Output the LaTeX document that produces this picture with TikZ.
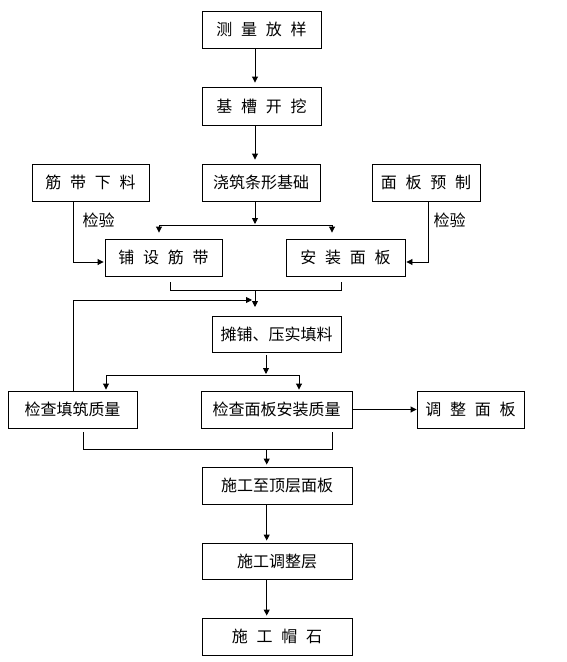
\documentclass[tikz,border=0pt]{standalone}
\usepackage{fontspec}
\newfontfamily\cjk{Noto Sans CJK SC}
\usetikzlibrary{arrows.meta}
\newcommand{\kg}{\hspace{8.7pt}}
\begin{document}
\begin{tikzpicture}[x=1pt,y=-1pt,
  box/.style={draw,line width=0.9pt,rectangle,inner sep=0pt,anchor=center,
    font=\cjk\fontsize{16}{16}\selectfont},
  lbl/.style={inner sep=0pt,font=\cjk\fontsize{16}{16}\selectfont},
  ln/.style={line width=0.9pt},
  arr/.style={line width=0.9pt,-{Triangle[length=6pt,width=6pt]}}]
\useasboundingbox[fill=white] (0,0) rectangle (567,662);
% boxes
\node[box,minimum width=119pt,minimum height=37pt] (b1) at (261.5,29.5) {测\kg 量\kg 放\kg 样};
\node[box,minimum width=119pt,minimum height=38pt] (b2) at (261.5,106) {基\kg 槽\kg 开\kg 挖};
\node[box,minimum width=117pt,minimum height=37pt] (b3) at (90.5,182.5) {筋\kg 带\kg 下\kg 料};
\node[box,minimum width=118pt,minimum height=37pt] (b4) at (261,182.5) {浇筑条形基础};
\node[box,minimum width=108pt,minimum height=37pt] (b5) at (426,182.5) {面\kg 板\kg 预\kg 制};
\node[box,minimum width=117pt,minimum height=37pt] (b6) at (163.5,257.5) {铺\kg 设\kg 筋\kg 带};
\node[box,minimum width=119pt,minimum height=37pt] (b7) at (345.5,257.5) {安\kg 装\kg 面\kg 板};
\node[box,minimum width=129pt,minimum height=36pt] (b8) at (276.5,334) {摊铺、压实填料};
\node[box,minimum width=129pt,minimum height=37pt] (b9) at (72.5,409.5) {检查填筑质量};
\node[box,minimum width=151pt,minimum height=37pt] (b10) at (276.5,409.5) {检查面板安装质量};
\node[box,minimum width=107pt,minimum height=37pt] (b11) at (470.5,409.5) {调\kg 整\kg 面\kg 板};
\node[box,minimum width=150pt,minimum height=37pt] (b12) at (277,485.5) {施工至顶层面板};
\node[box,minimum width=150pt,minimum height=36pt] (b13) at (277,561) {施工调整层};
\node[box,minimum width=150pt,minimum height=37pt] (b14) at (277,636.5) {施\kg 工\kg 帽\kg 石};
% labels
\node[lbl] (l1) at (98.5,220) {检验};
\node[lbl] (l2) at (449.5,220) {检验};
% helper coordinates
\coordinate (x255) at (255,0);
\coordinate (x73) at (73,0);
\coordinate (x428) at (428,0);
\coordinate (x266) at (266,0);
\coordinate (x267) at (266.7,0);
\coordinate (j1) at (255,225);
\coordinate (j1l) at (159,225);
\coordinate (j1r) at (332,225);
\coordinate (y262) at (0,262);
\coordinate (k1) at (73,262);
\coordinate (k2) at (428,262);
\coordinate (m1a) at (170,282);
\coordinate (m1b) at (170,290);
\coordinate (m1c) at (341,290);
\coordinate (m1d) at (341,282);
\coordinate (m1) at (255,290);
\coordinate (m1e) at (255,307);
\coordinate (f1) at (73,300);
\coordinate (f2) at (252,300);
\coordinate (j2) at (266,375);
\coordinate (j2l) at (106,375);
\coordinate (j2r) at (299,375);
\coordinate (n1a) at (83,432);
\coordinate (n1b) at (83,449);
\coordinate (n1c) at (332,449);
\coordinate (n1d) at (332,432);
\coordinate (n1) at (266.7,449);
% connectors
\draw[arr,shorten >=4pt] (b1.south -| x255) -- (b2.north -| x255);
\draw[arr,shorten >=4pt] (b2.south -| x255) -- (b4.north -| x255);
\draw[arr,shorten >=1pt] (b4.south -| x255) -- (j1);
\draw[ln] (j1l) -- (j1r);
\draw[arr,shorten >=6pt] (j1l) -- (b6.north -| j1l);
\draw[arr,shorten >=6pt] (j1r) -- (b7.north -| j1r);
\draw[arr,shorten >=1pt] (b3.south -| x73) -- (k1) -- (b6.west |- y262);
\draw[arr,shorten >=1pt] (b5.south -| x428) -- (k2) -- (b7.east |- y262);
\draw[ln] (m1a) -- (m1b) -- (m1c) -- (m1d);
\draw[arr] (m1) -- (m1e);
\draw[arr] (b9.north -| x73) -- (f1) -- (f2);
\draw[arr,shorten <=3pt,shorten >=1pt] (b8.south -| x266) -- (j2);
\draw[ln] (j2l) -- (j2r);
\draw[arr,shorten >=1pt] (j2l) -- (b9.north -| j2l);
\draw[arr,shorten >=1pt] (j2r) -- (b10.north -| j2r);
\draw[arr] (b10.east) -- (b11.west);
\draw[ln] (n1a) -- (n1b) -- (n1c) -- (n1d);
\draw[arr,shorten >=2pt] (n1) -- (b12.north -| n1);
\draw[arr,shorten >=2pt] (b12.south -| x267) -- (b13.north -| x267);
\draw[arr,shorten >=2pt] (b13.south -| x267) -- (b14.north -| x267);
\end{tikzpicture}
\end{document}
